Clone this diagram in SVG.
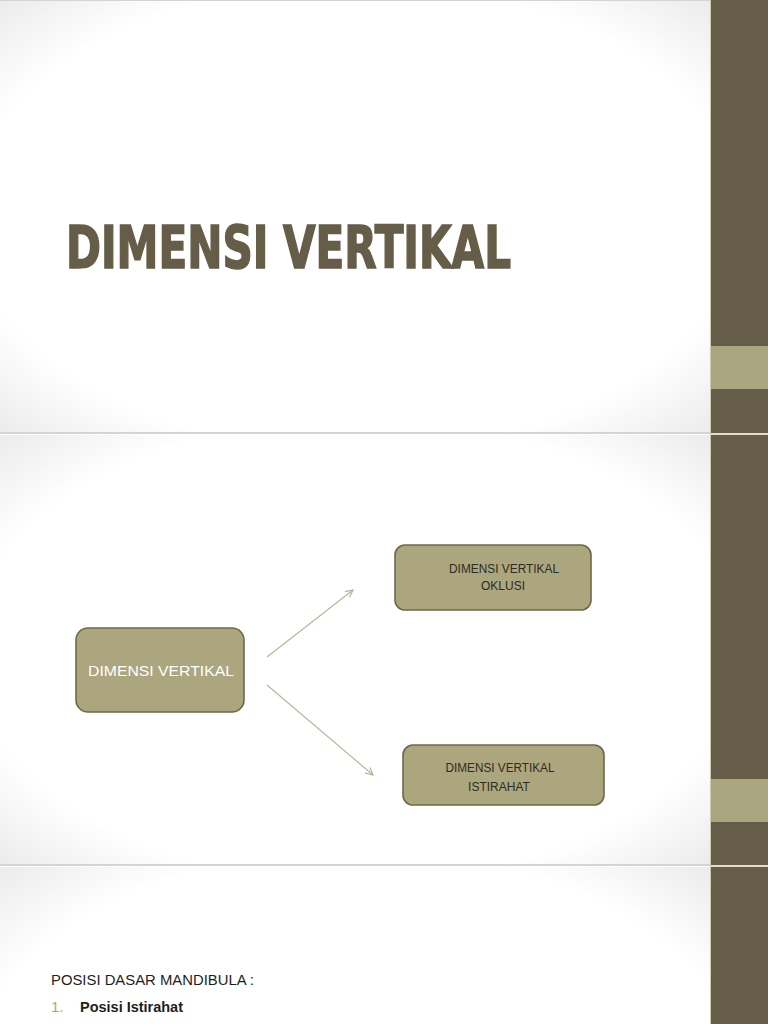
<svg xmlns="http://www.w3.org/2000/svg" width="768" height="1024" viewBox="0 0 768 1024">
<defs>
<radialGradient id="vig" cx="50%" cy="50%" r="75%">
<stop offset="0" stop-color="#ffffff"/>
<stop offset="0.72" stop-color="#ffffff"/>
<stop offset="1" stop-color="#e6e6e6"/>
</radialGradient>
<marker id="arr" viewBox="0 0 10 10" refX="9" refY="5" markerWidth="9" markerHeight="9" markerUnits="userSpaceOnUse" orient="auto">
<path d="M1,1 L9,5 L1,9" fill="none" stroke="#b5b198" stroke-width="1.3"/>
</marker>
<style>
.slide{fill:url(#vig)}
.sep{fill:#d4d4d4}
.bar{fill:#655d47}
.accent{fill:#a9a67f}
.gap{fill:#e2dfd2}
.node rect{fill:#aba67e;stroke:#6e6849;stroke-width:1.6}
.nt{font-family:"Liberation Sans",Arial,sans-serif;font-size:12px;fill:#2e2c22;text-anchor:middle}
.conn line{stroke:#bab69d;stroke-width:1.2;fill:none;marker-end:url(#arr)}
.body{font-family:"Liberation Sans",Arial,sans-serif;font-size:15px;fill:#1e1e1e}
</style>
</defs>
<rect x="0" y="0" width="768" height="1024" fill="#ffffff"/>
<rect class="slide" x="0" y="0" width="711" height="433"/>
<rect class="slide" x="0" y="435" width="711" height="430"/>
<rect class="slide" x="0" y="867" width="711" height="431"/>
<rect class="sep" x="0" y="432" width="711" height="2"/>
<rect class="sep" x="0" y="864" width="711" height="2"/>
<rect class="sep" x="0" y="0" width="711" height="1"/>
<rect class="bar" x="711" y="0" width="57" height="433"/>
<rect class="bar" x="711" y="435" width="57" height="430"/>
<rect class="bar" x="711" y="867" width="57" height="157"/>
<rect class="accent" x="711" y="346" width="57" height="43"/>
<rect class="accent" x="711" y="779" width="57" height="43"/>
<rect class="gap" x="711" y="433" width="57" height="2"/>
<rect class="gap" x="711" y="865" width="57" height="2"/>
<rect x="710" y="0" width="1" height="1024" fill="#cfcbb8"/>
<text x="66" y="268" font-family="DejaVu Sans,sans-serif" font-weight="bold" font-stretch="condensed" font-size="59" fill="#655d47" stroke="#655d47" stroke-width="1.6" textLength="445" lengthAdjust="spacingAndGlyphs">DIMENSI VERTIKAL</text>
<g id="connectors" class="conn">
<line x1="267" y1="657" x2="353" y2="590"/>
<line x1="267" y1="685" x2="373" y2="775"/>
</g>
<g id="node-dv" class="node">
<rect x="76" y="628" width="168" height="84" rx="12"/>
<text x="161" y="675.5" font-family="Liberation Sans,Arial,sans-serif" font-size="15" fill="#ffffff" text-anchor="middle" textLength="146" lengthAdjust="spacingAndGlyphs">DIMENSI VERTIKAL</text>
</g>
<g id="node-oklusi" class="node">
<rect x="395" y="545" width="196" height="65" rx="10"/>
<text class="nt" x="504" y="573" textLength="110" lengthAdjust="spacingAndGlyphs">DIMENSI VERTIKAL</text>
<text class="nt" x="503" y="590">OKLUSI</text>
</g>
<g id="node-istirahat" class="node">
<rect x="403" y="745" width="201" height="60" rx="10"/>
<text class="nt" x="500" y="772" textLength="109" lengthAdjust="spacingAndGlyphs">DIMENSI VERTIKAL</text>
<text class="nt" x="499" y="791">ISTIRAHAT</text>
</g>
<text class="body" x="51" y="985" textLength="203" lengthAdjust="spacingAndGlyphs">POSISI DASAR MANDIBULA :</text>
<text class="body" x="51" y="1012" style="fill:#a9a67f">1.</text>
<text class="body" x="80" y="1012" font-weight="bold" textLength="103" lengthAdjust="spacingAndGlyphs">Posisi Istirahat</text>
</svg>
